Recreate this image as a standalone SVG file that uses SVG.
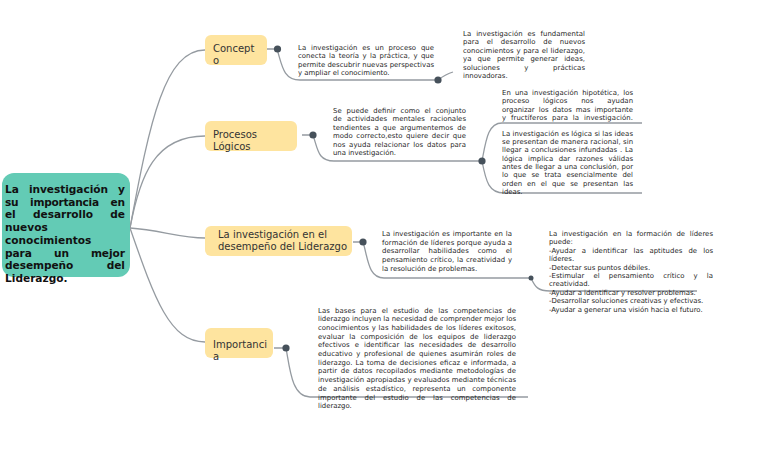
<svg xmlns="http://www.w3.org/2000/svg" width="768" height="466" viewBox="0 0 768 466">
<style>
.c{fill:none;stroke:#959ba1;stroke-width:1.3}
.d{fill:#46515b}
.n{fill:#fee49f}
.lbl{font-family:"DejaVu Sans",sans-serif;font-size:10px;fill:#333}
.t{font-family:"DejaVu Sans",sans-serif;font-size:6.9px;fill:#1e1e1e}
.m{font-family:"DejaVu Sans",sans-serif;font-size:10.6px;font-weight:bold;fill:#111}
</style>
<rect width="768" height="466" fill="#fff"/>
<g id="connectors">
<path class="c" d="M130,228 C150,120 165,50 205,50"/>
<path class="c" d="M130,228 C140,175 155,136 205,136"/>
<path class="c" d="M130,228 C160,230 180,238 205,238"/>
<path class="c" d="M130,228 C155,300 170,342 205,342"/>
<path class="c" d="M267,49 L277,49 C282,65 283,80 300,80 L438,80 Q446,74 453,72"/>
<path class="c" d="M302,135 L313,135 C318,150 318,161 334,161 L482,161"/>
<path class="c" d="M482,161 C486,140 488,123 502,123 L642,123"/>
<path class="c" d="M482,161 C486,182 489,193 504,193 L642,193"/>
<path class="c" d="M353,242 L363,242 C368,258 368,278 384,278 L531,278 C535,287 538,291 550,291 L697,291"/>
<path class="c" d="M274,348 L286,348 C290,370 292,397 310,397 L528,397"/>
<circle class="d" cx="277.5" cy="49" r="3.6"/>
<circle class="d" cx="438" cy="80" r="3.6"/>
<circle class="d" cx="313" cy="135" r="3.6"/>
<circle class="d" cx="482" cy="161" r="3.6"/>
<circle class="d" cx="363" cy="242" r="3.6"/>
<circle class="d" cx="531" cy="278" r="2.5"/>
<circle class="d" cx="286" cy="348" r="3.6"/>
</g>
<g id="central">
<rect x="2" y="173" width="128" height="104" rx="12" fill="#63cbb5"/>
<text class="m" x="5" y="193" textLength="120" lengthAdjust="spacing" style="word-spacing:6.5px">La investigación y</text>
<text class="m" x="5" y="205.7" textLength="120" lengthAdjust="spacing" style="word-spacing:8.3px">su importancia en</text>
<text class="m" x="5" y="218.4" textLength="120" lengthAdjust="spacing" style="word-spacing:13.7px">el desarrollo de</text>
<text class="m" x="5" y="231.1">nuevos</text>
<text class="m" x="5" y="243.8">conocimientos</text>
<text class="m" x="5" y="256.5" textLength="120" lengthAdjust="spacing" style="word-spacing:18.4px">para un mejor</text>
<text class="m" x="5" y="269.2" textLength="120" lengthAdjust="spacing" style="word-spacing:29.8px">desempeño del</text>
<text class="m" x="5" y="281.9">Liderazgo.</text>
</g>
<g id="concepto">
<rect class="n" x="205" y="35" width="62" height="30" rx="6"/>
<text class="lbl" x="213" y="52">Concept</text>
<text class="lbl" x="213" y="63.5">o</text>
</g>
<g id="concepto-texto">
<text class="t" x="298" y="50" textLength="136" lengthAdjust="spacing" style="word-spacing:2.5px">La investigación es un proceso que</text>
<text class="t" x="298" y="58.3" textLength="136" lengthAdjust="spacing" style="word-spacing:1.1px">conecta la teoría y la práctica, y que</text>
<text class="t" x="298" y="66.6" textLength="136" lengthAdjust="spacing">permite descubrir nuevas perspectivas</text>
<text class="t" x="298" y="74.9">y ampliar el conocimiento.</text>
</g>
<g id="concepto-texto-2">
<text class="t" x="463" y="35.5" textLength="122" lengthAdjust="spacing" style="word-spacing:2.7px">La investigación es fundamental</text>
<text class="t" x="463" y="44" textLength="122" lengthAdjust="spacing" style="word-spacing:5.5px">para el desarrollo de nuevos</text>
<text class="t" x="463" y="52.5" textLength="122" lengthAdjust="spacing" style="word-spacing:0.4px">conocimientos y para el liderazgo,</text>
<text class="t" x="463" y="61" textLength="122" lengthAdjust="spacing" style="word-spacing:3.9px">ya que permite generar ideas,</text>
<text class="t" x="463" y="69.5" textLength="122" lengthAdjust="spacing" style="word-spacing:22.3px">soluciones y prácticas</text>
<text class="t" x="463" y="78">innovadoras.</text>
</g>
<g id="procesos">
<rect class="n" x="205" y="121" width="92" height="30" rx="6"/>
<text class="lbl" x="213" y="138">Procesos</text>
<text class="lbl" x="213" y="149.5">Lógicos</text>
</g>
<g id="procesos-texto">
<text class="t" x="333" y="112.5" textLength="133" lengthAdjust="spacing" style="word-spacing:2.6px">Se puede definir como el conjunto</text>
<text class="t" x="333" y="121" textLength="133" lengthAdjust="spacing" style="word-spacing:3.1px">de  actividades mentales racionales</text>
<text class="t" x="333" y="129.5" textLength="133" lengthAdjust="spacing" style="word-spacing:1.8px">tendientes a  que argumentemos de</text>
<text class="t" x="333" y="138" textLength="133" lengthAdjust="spacing" style="word-spacing:1.2px">modo correcto,esto  quiere decir que</text>
<text class="t" x="333" y="146.5" textLength="133" lengthAdjust="spacing" style="word-spacing:1.5px">nos ayuda relacionar los  datos para</text>
<text class="t" x="333" y="155">una investigación.</text>
</g>
<g id="hipotetica">
<text class="t" x="502" y="95" textLength="131" lengthAdjust="spacing" style="word-spacing:1.9px">En una investigación hipotética, los</text>
<text class="t" x="502" y="103.3" textLength="131" lengthAdjust="spacing" style="word-spacing:11.6px">proceso  lógicos nos ayudan</text>
<text class="t" x="502" y="111.6" textLength="131" lengthAdjust="spacing" style="word-spacing:1.8px">organizar los datos mas  importante</text>
<text class="t" x="502" y="120" textLength="131" lengthAdjust="spacing" style="word-spacing:2.5px">y fructíferos  para la  investigación.</text>
</g>
<g id="logica">
<text class="t" x="502" y="135.8" textLength="131" lengthAdjust="spacing">La investigación es lógica si las ideas</text>
<text class="t" x="502" y="144.1" textLength="131" lengthAdjust="spacing">se presentan de manera racional, sin</text>
<text class="t" x="502" y="152.4" textLength="131" lengthAdjust="spacing" style="word-spacing:0.5px">llegar a conclusiones infundadas . La</text>
<text class="t" x="502" y="160.7" textLength="131" lengthAdjust="spacing" style="word-spacing:3.3px">lógica implica dar razones válidas</text>
<text class="t" x="502" y="169" textLength="131" lengthAdjust="spacing" style="word-spacing:0.4px">antes de llegar a una conclusión, por</text>
<text class="t" x="502" y="177.3" textLength="131" lengthAdjust="spacing" style="word-spacing:2.9px">lo que se trata esencialmente del</text>
<text class="t" x="502" y="185.6" textLength="131" lengthAdjust="spacing" style="word-spacing:2.8px">orden en el que se presentan las</text>
<text class="t" x="502" y="193.9">ideas.</text>
</g>
<g id="liderazgo">
<rect class="n" x="205" y="226" width="147" height="30" rx="6"/>
<text class="lbl" x="218" y="237.5">La investigación en el</text>
<text class="lbl" x="218" y="249.5">desempeño del Liderazgo</text>
</g>
<g id="liderazgo-texto">
<text class="t" x="382" y="236" textLength="130" lengthAdjust="spacing" style="word-spacing:0.5px">La investigación es importante en la</text>
<text class="t" x="382" y="244.7" textLength="130" lengthAdjust="spacing">formación de líderes porque ayuda a</text>
<text class="t" x="382" y="253.4" textLength="130" lengthAdjust="spacing" style="word-spacing:6.6px">desarrollar habilidades como el</text>
<text class="t" x="382" y="262.1" textLength="130" lengthAdjust="spacing" style="word-spacing:0.5px">pensamiento crítico, la creatividad y</text>
<text class="t" x="382" y="270.8">la resolución de problemas.</text>
</g>
<g id="formacion">
<text class="t" x="549" y="236" textLength="164" lengthAdjust="spacing" style="word-spacing:2.4px">La investigación en la formación de líderes</text>
<text class="t" x="549" y="244.4">puede:</text>
<text class="t" x="549" y="252.8" textLength="164" lengthAdjust="spacing" style="word-spacing:3.8px">-Ayudar a identificar las aptitudes de los</text>
<text class="t" x="549" y="261.2">líderes.</text>
<text class="t" x="549" y="269.6">-Detectar sus puntos débiles.</text>
<text class="t" x="549" y="278" textLength="164" lengthAdjust="spacing" style="word-spacing:6.9px">-Estimular el pensamiento crítico y la</text>
<text class="t" x="549" y="286.4">creatividad.</text>
<text class="t" x="549" y="294.8">-Ayudar a identificar y resolver problemas.</text>
<text class="t" x="549" y="303.2">-Desarrollar soluciones creativas y efectivas.</text>
<text class="t" x="549" y="311.6">-Ayudar a generar una visión hacia el futuro.</text>
</g>
<g id="importancia">
<rect class="n" x="205" y="328" width="68" height="30" rx="6"/>
<text class="lbl" x="213" y="348">Importanci</text>
<text class="lbl" x="213" y="359.5">a</text>
</g>
<g id="importancia-texto">
<text class="t" x="318" y="312.5" textLength="198" lengthAdjust="spacing" style="word-spacing:3px">Las bases para el estudio de las competencias de</text>
<text class="t" x="318" y="321.2" textLength="198" lengthAdjust="spacing">liderazgo incluyen la necesidad de comprender mejor los</text>
<text class="t" x="318" y="329.9" textLength="198" lengthAdjust="spacing" style="word-spacing:0.6px">conocimientos y las habilidades de los líderes exitosos,</text>
<text class="t" x="318" y="338.6" textLength="198" lengthAdjust="spacing" style="word-spacing:2.7px">evaluar la composición de los equipos de liderazgo</text>
<text class="t" x="318" y="347.3" textLength="198" lengthAdjust="spacing" style="word-spacing:2.7px">efectivos e identificar las necesidades de desarrollo</text>
<text class="t" x="318" y="356" textLength="198" lengthAdjust="spacing" style="word-spacing:1.4px">educativo y profesional de quienes asumirán roles de</text>
<text class="t" x="318" y="364.7" textLength="198" lengthAdjust="spacing" style="word-spacing:0.8px">liderazgo. La toma de decisiones eficaz e informada, a</text>
<text class="t" x="318" y="373.4" textLength="198" lengthAdjust="spacing" style="word-spacing:1.3px">partir de datos recopilados mediante metodologías de</text>
<text class="t" x="318" y="382.1" textLength="198" lengthAdjust="spacing">investigación apropiadas y evaluados mediante técnicas</text>
<text class="t" x="318" y="390.8" textLength="198" lengthAdjust="spacing" style="word-spacing:4.2px">de análisis estadístico, representa un componente</text>
<text class="t" x="318" y="399.5" textLength="198" lengthAdjust="spacing" style="word-spacing:5.5px">importante del estudio de las competencias de</text>
<text class="t" x="318" y="408.2">liderazgo.</text>
</g>
</svg>
